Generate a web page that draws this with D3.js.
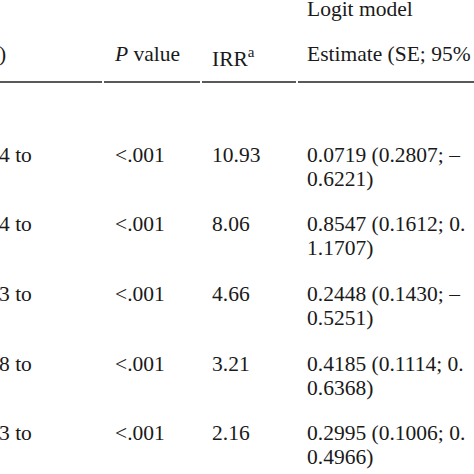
<!DOCTYPE html>
<html><head><meta charset="utf-8">
<script src="https://cdn.jsdelivr.net/npm/d3@7"></script>
<style>body{margin:0;background:#fff}</style></head>
<body><svg id="c" width="474" height="474"></svg>
<script>
const rowLabels = ["4 to", "4 to", "3 to", "8 to", "3 to"];
const pValues = ["<.001", "<.001", "<.001", "<.001", "<.001"];
const irr = [10.93, 8.06, 4.66, 3.21, 2.16];
const estLine1 = ["0.0719 (0.2807; \u2013", "0.8547 (0.1612; 0.", "0.2448 (0.1430; \u2013", "0.4185 (0.1114; 0.", "0.2995 (0.1006; 0."];
const estLine2 = ["0.6221)", "1.1707)", "0.5251)", "0.6368)", "0.4966)"];

const svg = d3.select("#c");
const font = "'Liberation Serif','Times New Roman',serif";
const fs = 21.5;
const col = d3.scaleOrdinal().domain(["label","p","irr","est"]).range([-1,115,212,307]);
const y = d3.scaleBand().domain(d3.range(rowLabels.length)).range([120, 468]);

function txt(x, yy, s) {
  return svg.append("text").attr("x", x).attr("y", yy)
    .attr("font-family", font).attr("font-size", fs).attr("fill", "#1a1a1a").text(s);
}
// header
txt(col("est"), 16, "Logit model");
txt(col("label"), 61, ")");
const pv = txt(col("p"), 61, "");
pv.append("tspan").attr("font-style", "italic").text("P");
pv.append("tspan").text(" value");
const ir = txt(col("irr"), 66, "IRR");
ir.append("tspan").attr("font-size", 15).attr("dy", -9).text("a");
txt(col("est"), 61, "Estimate (SE; 95%");
// rule segments
[[0,102],[104,200],[202,296],[298,474]].forEach(([a,b]) =>
  svg.append("line").attr("x1", a).attr("x2", b).attr("y1", 82).attr("y2", 82)
    .attr("stroke", "#222").attr("stroke-width", 1.3));

rowLabels.forEach((d, i) => {
  const b = y(i) + y.bandwidth()/2 + 7;
  txt(col("label"), b, d);
  txt(col("p"), b, pValues[i]);
  txt(col("irr"), b, irr[i].toFixed(2));
  txt(col("est"), b, estLine1[i]);
  txt(col("est"), b + 24, estLine2[i]);
});
</script></body></html>
